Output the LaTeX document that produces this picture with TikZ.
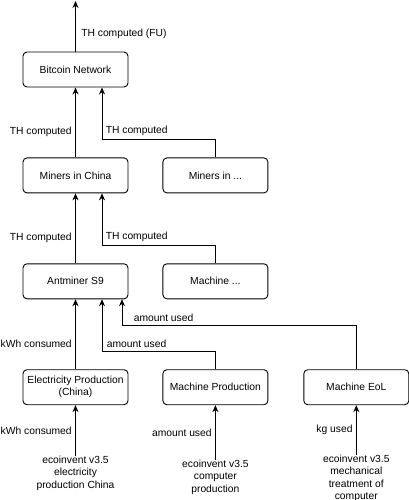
\documentclass[tikz,border=0pt]{standalone}
\usepackage{fontspec}
\setmainfont{Liberation Sans}
\usetikzlibrary{positioning,arrows.meta}

\begin{document}
\begin{tikzpicture}[x=1pt,y=1pt,
    box/.style={draw, rounded corners=4pt, minimum width=105pt, minimum height=35pt,
      inner xsep=0pt, align=center, line width=0.9pt},
    flow/.style={-{Stealth[length=7pt,width=6pt]}, line width=0.9pt},
    src/.style={align=center, inner sep=0pt},
    font=\fontsize{10.3}{12.1}\selectfont]
  \useasboundingbox (0,0) rectangle (408,-500);
  \node[box] (btc) at (75.5,-69.5) {Bitcoin Network};
  \coordinate (fu) at (75.5,-1);
  \node[box, below=70pt of btc] (china) {Miners in China};
  \node[box, right=34pt of china] (others) {Miners in ...};
  \node[box, below=70pt of china] (s9) {Antminer S9};
  \node[box, right=34pt of s9] (mach) {Machine ...};
  \node[box, below=70pt of s9] (elec) {Electricity Production\\(China)};
  \node[box, right=34pt of elec] (prod) {Machine Production};
  \node[box, right=35pt of prod] (eol) {Machine EoL};
  \node[src, below=51pt of elec] (ei1) {ecoinvent v3.5\\electricity\\production China};
  \node[src, below=55pt of prod] (ei2) {ecoinvent v3.5\\computer\\production};
  \node[src, below=50pt of eol] (ei3) {ecoinvent v3.5\\mechanical\\treatment of\\computer};

  \draw[flow] (btc) -- node[pos=0.35, right=2pt] {TH computed (FU)} (fu);
  \draw[flow] (china) -- node[pos=0.37, left] {TH computed} (btc);
  \draw[flow] (others.north) -- ++(0,18) -| node[pos=0.5, above right] {TH computed} ([xshift=26.5pt]btc.south);
  \draw[flow] (s9) -- node[pos=0.37, left] {TH computed} (china);
  \draw[flow] (mach.north) -- ++(0,18) -| node[pos=0.5, above right] {TH computed} ([xshift=26.5pt]china.south);
  \draw[flow] (elec) -- node[pos=0.37, left] {kWh consumed} (s9);
  \draw[flow] (prod.north) -- ++(0,18) -| node[pos=0.5, above right, xshift=1pt] {amount used} ([xshift=26.5pt]s9.south);
  \draw[flow] (eol.north) -- ++(0,44) -| node[pos=0.5, above right, xshift=8pt] {amount used} ([xshift=46.5pt]s9.south);
  \draw[flow] (ei1) -- node[left] {kWh consumed} (elec);
  \draw[flow] (ei2) -- node[left] {amount used} (prod);
  \draw[flow] (ei3) -- node[left] {kg used} (eol); % EoL input
\end{tikzpicture}
\end{document}
